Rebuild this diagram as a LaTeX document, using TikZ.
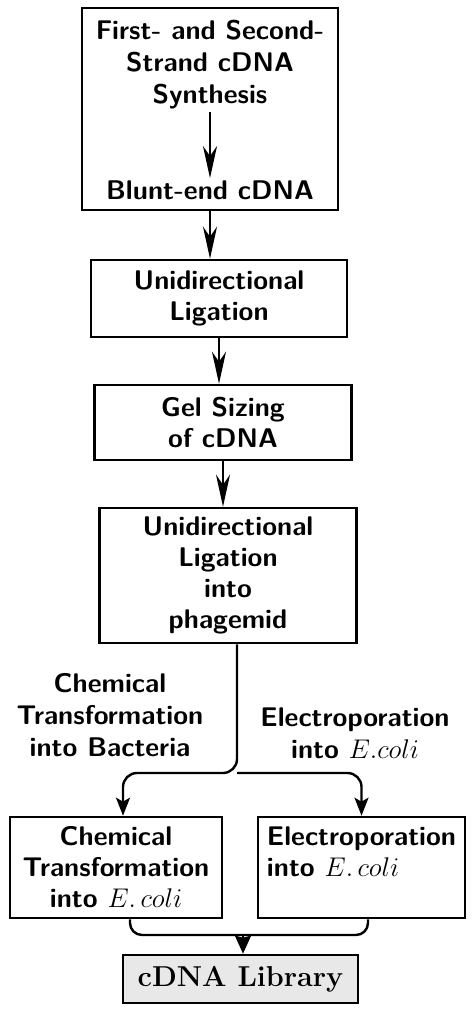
\RequirePackage{fix-cm}
\documentclass[tikz,border=0pt]{standalone}
\usepackage{amsmath}
\usepackage{tikz}
\usetikzlibrary{arrows.meta}

\begin{document}
\begin{tikzpicture}[x=0.5pt, y=-0.5pt,
    box/.style={draw, line width=1.3pt, inner sep=2pt, align=center,
                font=\fontsize{13.5}{15.5}\selectfont\sffamily\bfseries},
    txt/.style={inner sep=1pt, align=center,
                font=\fontsize{13.5}{16}\selectfont\sffamily\bfseries},
    flow/.style={line width=1.2pt, -{Stealth[length=16pt, width=7pt, inset=5pt]}},
    fork/.style={line width=1.2pt, rounded corners=7pt,
                 -{Stealth[length=9pt, width=7pt, inset=2pt]}}]
  \useasboundingbox (0,0) rectangle (474,1015);
  % the first box holds its own small step
  \node[box, minimum width=128pt, minimum height=101pt] (b1) at (210,109) {};
  \node[txt] (syn) at (210,65) {First- and Second-\\Strand cDNA\\Synthesis};
  \node[txt] (blunt) at (210,190) {Blunt-end cDNA};
  \draw[flow] (syn.south) -- (blunt.north);
  % the main column
  \node[box, minimum width=128pt, minimum height=38.5pt] (b2) at (219,298.5)
    {Unidirectional\\Ligation};
  \node[box, minimum width=128.5pt, minimum height=37.5pt] (b3) at (223,422.5)
    {Gel Sizing\\of cDNA};
  \node[box, minimum width=128.5pt, minimum height=67.5pt] (b4) at (228,575.5)
    {Unidirectional\\Ligation\\into\\phagemid};
  \foreach \a/\b in {b1/b2, b2/b3, b3/b4}
    \draw[flow] (\a.south) -- (\a.south |- \b.north);
  % the two ways into the cells
  \node[box, minimum width=106pt, minimum height=50.5pt] (b5) at (116,867.5)
    {Chemical\\Transformation\\into $E.\,coli$};
  \node[box, align=left, minimum width=103.5pt, minimum height=50.5pt] (b6)
    at (361.5,867.5) {Electroporation\\into $E.\,coli$\\\mbox{}};
  \node[txt] (chemlbl) at (110,715) {Chemical\\Transformation\\into Bacteria};
  \node[txt] (electlbl) at (355,733) {Electroporation\\into $E.coli$};
  \coordinate (split) at (237,773);
  \draw[fork] (split |- b4.south) -- (split) -| ([xshift=3.5pt]b5.north);
  \draw[fork] (split) -| (b6.north);
  % both lead to the library
  \node[box, fill=gray!18, inner sep=3pt, minimum width=117.5pt, minimum height=24pt,
        font=\fontsize{14.4}{17}\selectfont\rmfamily\bfseries] (b7) at (240.5,979)
    {cDNA Library};
  \coordinate (merge) at (243,935);
  \draw[line width=1.2pt, rounded corners=6pt]
    ([xshift=7pt]b5.south) |- (merge) -| ([xshift=3.25pt]b6.south);
  \draw[flow, -{Stealth[length=9pt, width=8pt, inset=1pt]}] (merge) -- (merge |- b7.north);
\end{tikzpicture}
\end{document}
